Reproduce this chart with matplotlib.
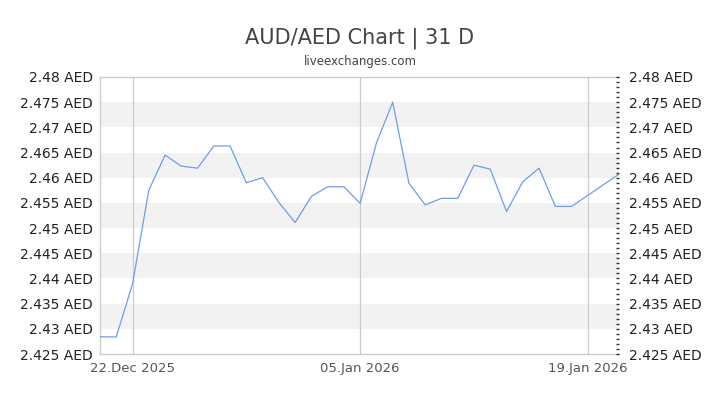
import matplotlib
matplotlib.use("Agg")
import matplotlib.pyplot as plt
import matplotlib.dates as mdates
from matplotlib.ticker import MultipleLocator, FuncFormatter
from datetime import datetime, timedelta

# daily AUD/AED rates
dates_str = [
    "2025-12-20", "2025-12-21", "2025-12-22", "2025-12-23", "2025-12-24",
    "2025-12-25", "2025-12-26", "2025-12-27", "2025-12-28", "2025-12-29",
    "2025-12-30", "2025-12-31", "2026-01-01", "2026-01-02", "2026-01-03",
    "2026-01-04", "2026-01-05", "2026-01-06", "2026-01-07", "2026-01-08",
    "2026-01-09", "2026-01-10", "2026-01-11", "2026-01-12", "2026-01-13",
    "2026-01-14", "2026-01-15", "2026-01-16", "2026-01-17", "2026-01-18",
    "2026-01-21",
]
rates = [
    2.4284, 2.4284, 2.4389, 2.4575, 2.4645,
    2.4623, 2.4619, 2.4663, 2.4663, 2.4590,
    2.4600, 2.4551, 2.4511, 2.4563, 2.4582,
    2.4582, 2.4549, 2.4669, 2.4750, 2.4589,
    2.4546, 2.4559, 2.4559, 2.4625, 2.4617,
    2.4533, 2.4592, 2.4619, 2.4543, 2.4543,
    2.4609,
]
tick_dates = ["2025-12-22", "2026-01-05", "2026-01-19"]
tick_labels = ["22.Dec 2025", "05.Jan 2026", "19.Jan 2026"]

dates = [datetime.strptime(d, "%Y-%m-%d") for d in dates_str]
ticks = [datetime.strptime(d, "%Y-%m-%d") for d in tick_dates]

fig = plt.figure(figsize=(7.2, 4.05), dpi=100)
ax = fig.add_axes([100 / 720, 1 - 354 / 405, 519 / 720, 277 / 405])

y_min, y_max, step = 2.425, 2.48, 0.005

# alternating grey bands
for i in range(11):
    lo = y_min + i * step
    if i % 2 == 1:
        ax.axhspan(lo, lo + step, color="#f2f2f2", lw=0, zorder=0)

for t in ticks:
    ax.axvline(t, color="#cccccc", lw=0.9, zorder=1)

ax.plot(dates, rates, color="#6f9ceb", lw=0.9, zorder=3)

ax.set_xlim(datetime(2025, 12, 20), datetime(2026, 1, 21) + timedelta(hours=-2))
ax.set_ylim(y_min, y_max)

ax.set_xticks(ticks)
ax.set_xticklabels(tick_labels, fontsize=9.5, color="#555555")
ax.tick_params(axis="x", length=0, pad=6)

fmt = FuncFormatter(lambda v, p: ("%.3f" % v).rstrip("0").rstrip(".") + " AED")
ax.yaxis.set_major_locator(MultipleLocator(step))
ax.yaxis.set_major_formatter(fmt)
ax.tick_params(axis="y", length=0, pad=5, labelsize=10, labelcolor="#222222")

for s in ["left", "top", "bottom"]:
    ax.spines[s].set_color("#cccccc")
    ax.spines[s].set_linewidth(1)
ax.spines["right"].set_visible(False)

# right axis with dotted minor ticks
ax2 = ax.twinx()
ax2.set_ylim(y_min, y_max)
ax2.yaxis.set_major_locator(MultipleLocator(step))
ax2.yaxis.set_minor_locator(MultipleLocator(0.001))
ax2.yaxis.set_major_formatter(fmt)
ax2.tick_params(axis="y", which="major", length=2, width=1, color="#333333",
                direction="in", pad=7, labelsize=10, labelcolor="#222222")
ax2.tick_params(axis="y", which="minor", length=2, width=1, color="#333333",
                direction="in")
for s in ax2.spines.values():
    s.set_visible(False)

fig.text(0.5, 1 - 38 / 405, "AUD/AED Chart | 31 D", ha="center", va="center",
         fontsize=15, color="#444444")
fig.text(0.5, 1 - 62 / 405, "liveexchanges.com", ha="center", va="center",
         fontsize=8.5, color="#444444")

fig.savefig("out.png", dpi=100)
